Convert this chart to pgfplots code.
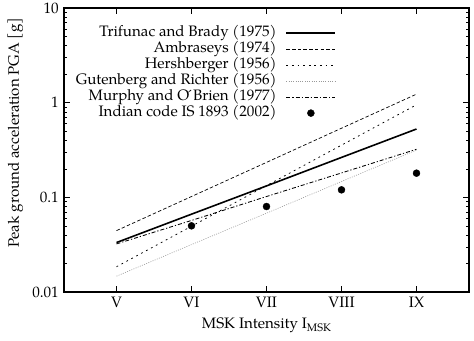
\documentclass[border=0pt]{standalone}
\usepackage{fontspec}
\setmainfont{TeX Gyre Pagella}
\usepackage{pgfplots}
\pgfplotsset{compat=1.18}
\newcommand{\figfont}{\fontsize{15.2}{17}\selectfont}
\pgfplotsset{every axis/.append style={font=\figfont},
  every tick label/.append style={font=\figfont},
  every axis label/.append style={font=\figfont}}
\begin{document}
\figfont
\begin{tikzpicture}[font=\figfont]
\useasboundingbox (-64bp,-49bp) rectangle (410bp,292bp);
\begin{axis}[
  at={(0,0)}, anchor=south west,
  scale only axis, width=405bp, height=284bp,
  ymode=log, ymin=0.01, ymax=10,
  xmin=4.3, xmax=9.7,
  xtick={5,6,7,8,9}, xticklabels={V,VI,VII,VIII,IX},
  ytick={0.01,0.1,1,10}, yticklabels={0.01,0.1,1,10},
  /pgf/number format/assume math mode=true,
  tick align=inside, major tick length=6bp, minor tick length=3bp,
  axis line style={line width=1.1pt},
  every tick/.style={black, line width=0.6pt},
  xlabel={MSK Intensity I\raisebox{-0.35ex}{\fontsize{11}{12}\selectfont MSK}},
  xlabel style={yshift=0bp},
  ylabel={Peak ground acceleration PGA [g]},
  ylabel style={at={(axis description cs:-0.088,0.56)}, anchor=south},
  legend style={draw=none, fill=none, at={(axis description cs:0.675,0.944)}, anchor=north east,
    row sep=0pt, column sep=9bp, font=\figfont, inner sep=1pt,
    nodes={inner sep=0pt, text height=11bp, text depth=5bp}},
  legend cell align=right,
  legend plot pos=right,
  legend image code/.code={\draw[mark repeat=2,mark phase=2,#1] plot coordinates {(0bp,0bp) (24.5bp,0bp) (49bp,0bp)};},
]
\addplot[black, line width=1.6pt] coordinates {(5,0.0333) (6,0.0664) (7,0.132) (8,0.264) (9,0.527)};
\addlegendentry{Trifunac and Brady (1975)}
\addplot[black, line width=0.7pt, dash pattern=on 3.5bp off 2.2bp] coordinates {(5,0.0445) (6,0.102) (7,0.234) (8,0.537) (9,1.23)};
\addlegendentry{Ambraseys (1974)}
\addplot[black, line width=0.75pt, dash pattern=on 1.8bp off 3.8bp] coordinates {(5,0.0185) (6,0.0495) (7,0.133) (8,0.356) (9,0.95)};
\addlegendentry{Hershberger (1956)}
\addplot[gray!80, line width=0.6pt, dash pattern=on 1bp off 1.3bp] coordinates {(5,0.0147) (6,0.0317) (7,0.068) (8,0.147) (9,0.316)};
\addlegendentry{Gutenberg and Richter (1956)}
\addplot[black, line width=0.85pt, dash pattern=on 4bp off 2bp on 1.2bp off 2bp] coordinates {(5,0.0322) (6,0.057) (7,0.102) (8,0.181) (9,0.322)};
\addlegendentry{Murphy and O\'{}Brien (1977)}
\addplot[only marks, mark=*, mark size=3.5bp, black] coordinates {(6,0.05) (7,0.08) (8,0.12) (9,0.18)};
\addlegendentry{Indian code IS 1893 (2002)}
\end{axis}
\end{tikzpicture}
\end{document}
